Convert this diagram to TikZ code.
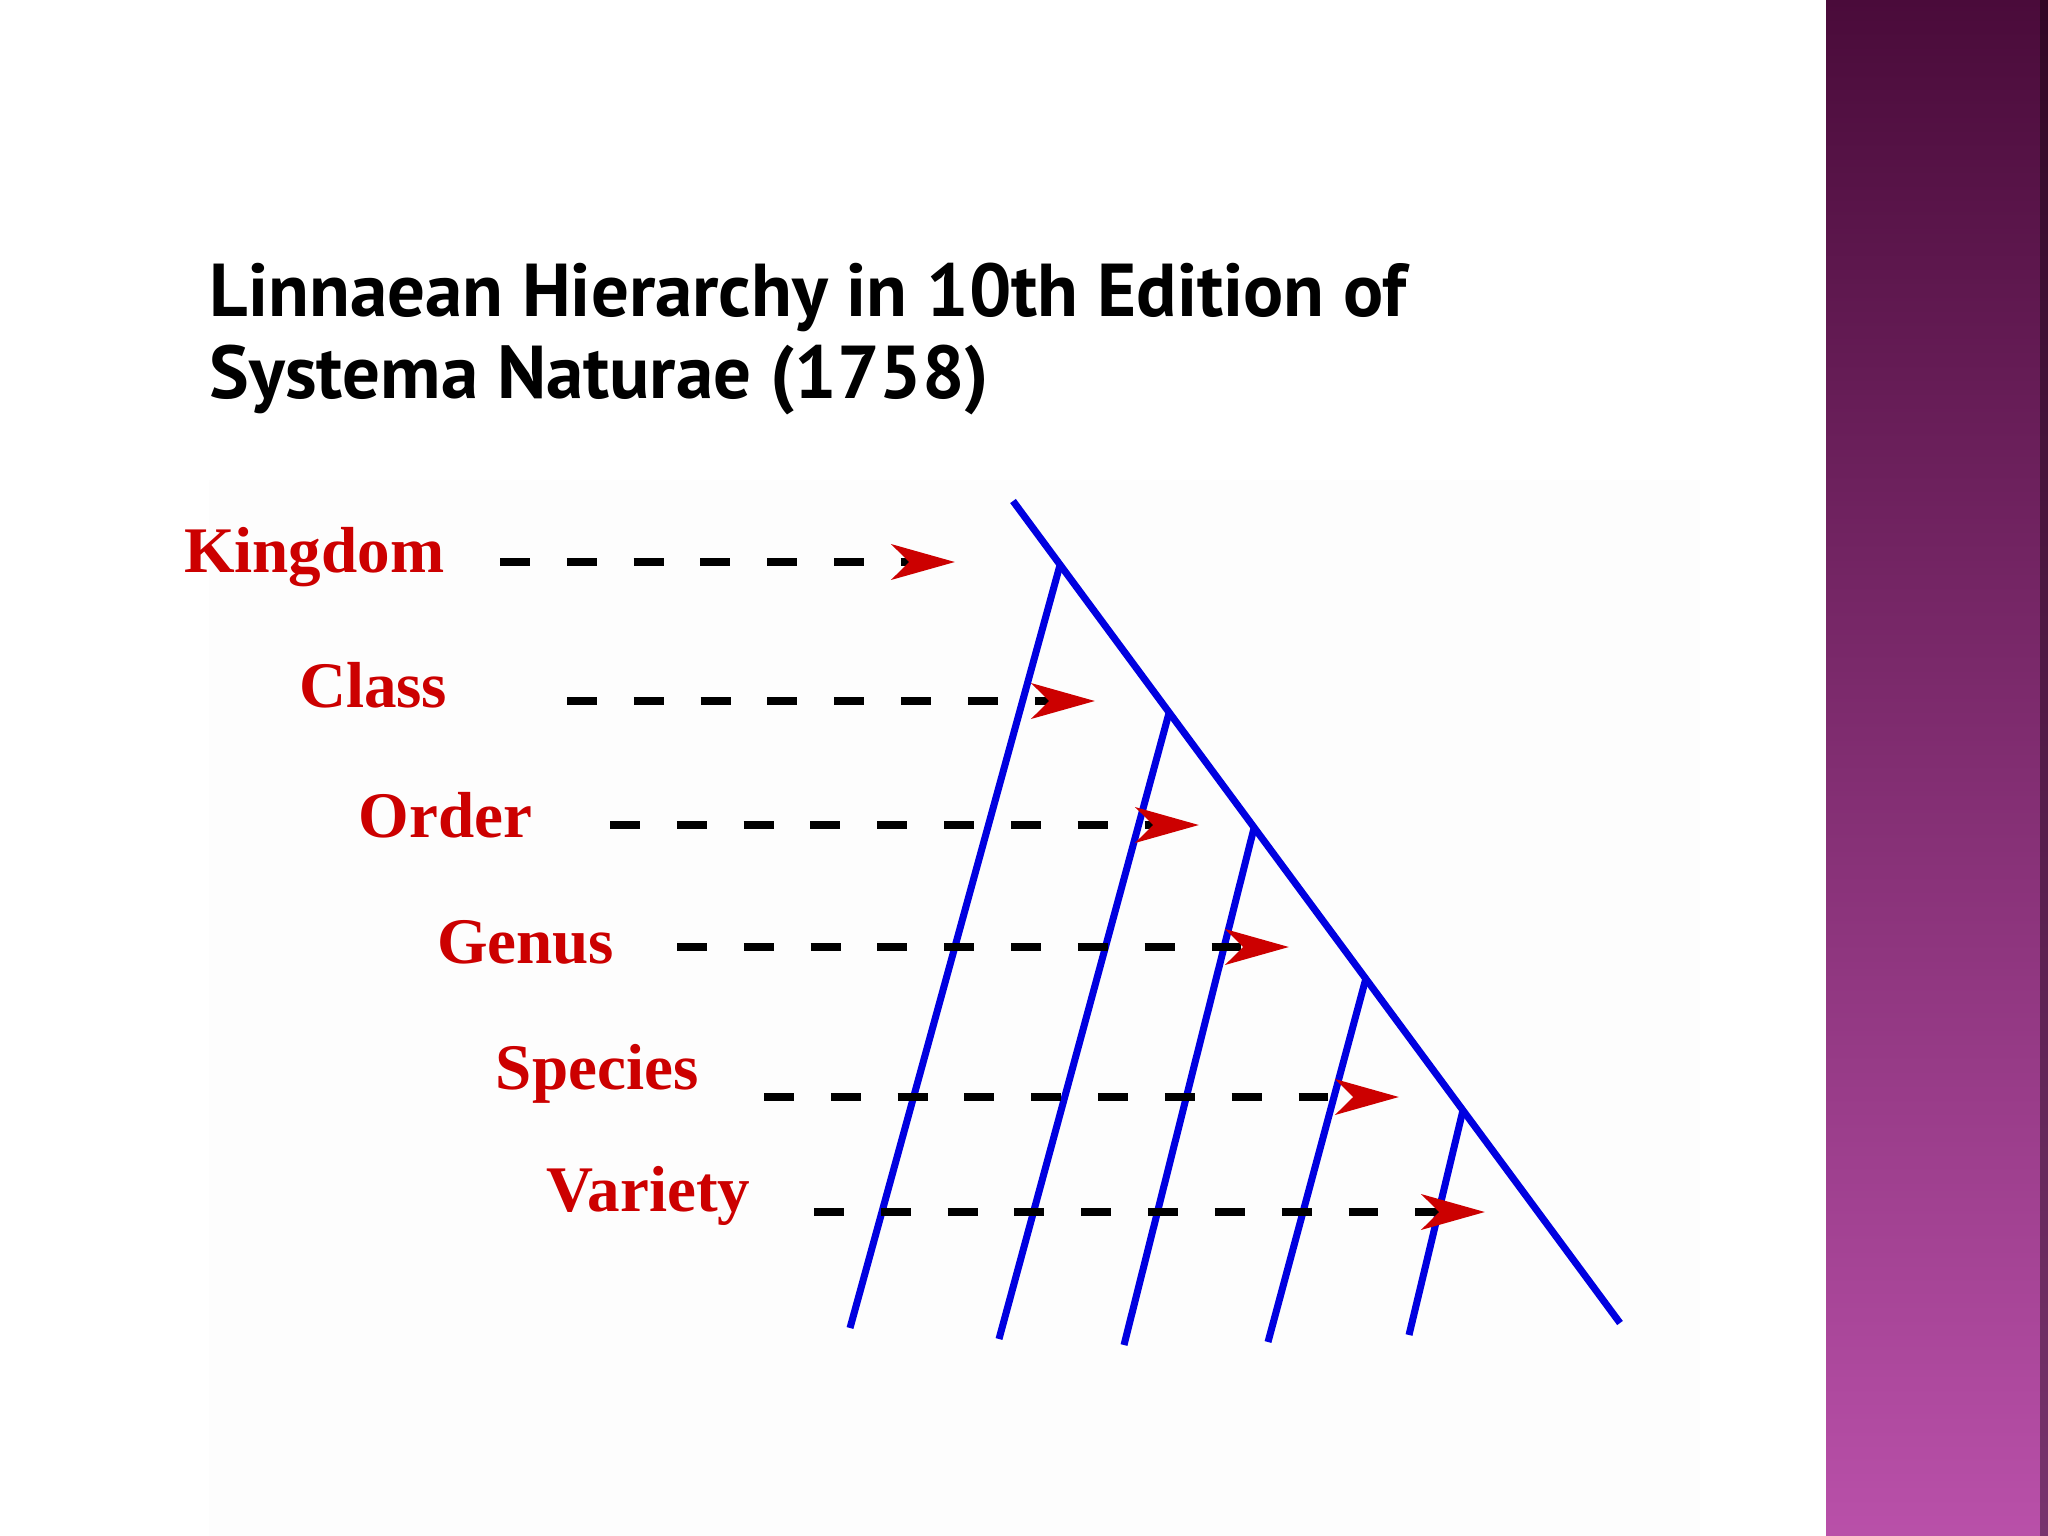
\documentclass[tikz,border=0pt]{standalone}
\usepackage{fontspec}
\setmainfont{Liberation Serif}
\newfontfamily\titlefont{PT Sans}
\usetikzlibrary{arrows.meta}
\definecolor{rankred}{HTML}{CC0000}
\definecolor{treeblue}{HTML}{0000E0}
\definecolor{bartop}{HTML}{4A0B3A}
\definecolor{barmid}{HTML}{87367C}
\definecolor{barbot}{HTML}{B950A9}
\tikzset{
  rank/.style={font=\bfseries\fontsize{18.5}{22}\selectfont, text=rankred, anchor=base east, inner sep=0pt},
  heading/.style={font=\titlefont\bfseries\fontsize{21.3}{25}\selectfont, anchor=base west, inner sep=0pt},
  guide/.style={line width=2.3pt, dash pattern=on 8.5pt off 10.5pt, -{Stealth[length=18pt,width=10pt,inset=5pt,color=rankred,fill=rankred]}},
  branch/.style={treeblue, line width=2pt}
}

\begin{document}
\begin{tikzpicture}[x=0.01cm,y=-0.01cm]
\useasboundingbox (0,0) rectangle (2048,1536);
\fill[white] (0,0) rectangle (2048,1536);
\fill[black!0.6] (209,480) rectangle (1700,1536);
\shade[top color=bartop, middle color=barmid, bottom color=barbot] (1826,0) rectangle (2048,1536);
\fill[black, opacity=0.35] (2040,0) rectangle (2048,1536);

\node[heading] (title1) at (209,316) {Linnaean Hierarchy in 10th Edition of};
\node[heading] (title2) at (209,398) {Systema Naturae (1758)};

\node[rank] (kingdom) at (445,572) {Kingdom};
\node[rank] (class) at (448,707) {Class};
\node[rank] (order) at (533,837) {Order};
\node[rank] (genus) at (615,963) {Genus};
\node[rank] (species) at (699,1089) {Species};
\node[rank] (variety) at (751,1211) {Variety};

\coordinate (root) at (1013,501);
\coordinate (end) at (1620,1323);
\coordinate (fork1) at (1060,565);
\coordinate (fork2) at (1169,713);
\coordinate (fork3) at (1254,828);
\coordinate (fork4) at (1366,978);
\coordinate (fork5) at (1463,1110);
\coordinate (leaf1) at (850,1328);
\coordinate (leaf2) at (999,1339);
\coordinate (leaf3) at (1124,1345);
\coordinate (leaf4) at (1268,1342);
\coordinate (leaf5) at (1409,1335);

\draw[branch] (root) -- (end);
\draw[branch] (fork1) -- (leaf1);
\draw[branch] (fork2) -- (leaf2);
\draw[branch] (fork3) -- (leaf3);
\draw[branch] (fork4) -- (leaf4);
\draw[branch] (fork5) -- (leaf5);

\coordinate (kingdom-s) at (500,562);
\coordinate (kingdom-t) at (955,562);
\coordinate (class-s) at (567,701);
\coordinate (class-t) at (1095,701);
\coordinate (order-s) at (610,825);
\coordinate (order-t) at (1199,825);
\coordinate (genus-s) at (677,947);
\coordinate (genus-t) at (1289,947);
\coordinate (species-s) at (764,1097);
\coordinate (species-t) at (1399,1097);
\coordinate (variety-s) at (814,1212);
\coordinate (variety-t) at (1485,1212);

\draw[guide] (kingdom-s) -- (kingdom-t);
\draw[guide] (class-s) -- (class-t);
\draw[guide] (order-s) -- (order-t);
\draw[guide] (genus-s) -- (genus-t);
\draw[guide] (species-s) -- (species-t);
\draw[guide] (variety-s) -- (variety-t);
\end{tikzpicture}
\end{document}
